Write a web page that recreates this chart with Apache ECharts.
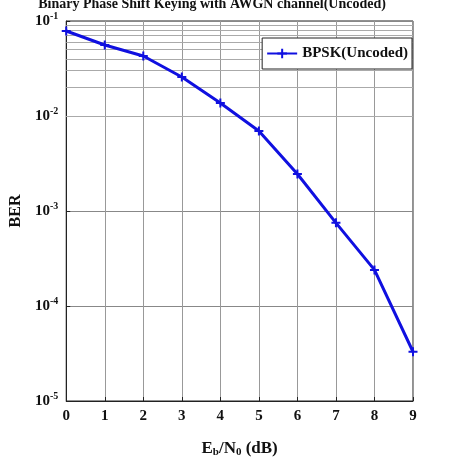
<!DOCTYPE html><html><head><meta charset="utf-8"><script src="https://cdn.jsdelivr.net/npm/echarts@6/dist/echarts.min.js"></script>
<style>html,body{margin:0;padding:0;background:#fff}#c{width:474px;height:474px}</style></head><body><div id="c"></div><script>
const snr=[0,1,2,3,4,5,6,7,8,9];
const ber=[0.0785,0.0559,0.0428,0.0257,0.0137,0.00695,0.00245,0.00075,0.00024,0.000033];
const decades=[1e-5,1e-4,1e-3,1e-2];
const minorMult=[2,3,4,5,6,7,8,9];
const F='Liberation Serif';
const minorLines=[];decades.forEach(d=>minorMult.forEach(m=>minorLines.push({yAxis:d*m})));
const ch=echarts.init(document.getElementById('c'));
ch.setOption({
 animation:false,
 title:{text:'Binary Phase Shift Keying with AWGN channel(Uncoded)',left:207,top:-8,textAlign:'center',textStyle:{fontFamily:F,fontSize:14,fontWeight:'bold',color:'#111'}},
 legend:{right:62,top:38,orient:'vertical',backgroundColor:'#fff',borderColor:'#222',borderWidth:1,padding:[8,4],itemWidth:30,itemHeight:12,textStyle:{fontFamily:F,fontSize:15,fontWeight:'bold',color:'#111'},data:['BPSK(Uncoded)']},
 grid:{left:62,right:61,top:21,bottom:73,show:true,borderColor:'#222',borderWidth:1},
 xAxis:{type:'value',min:0,max:9,interval:1,name:'{a|E}{s|b}{a|/N}{s|0}{a| (dB)}',nameLocation:'middle',nameGap:38,
  nameTextStyle:{rich:{a:{fontFamily:F,fontSize:17,fontWeight:'bold',color:'#111'},s:{fontFamily:F,fontSize:11,fontWeight:'bold',color:'#111',verticalAlign:'bottom',padding:[8,0,0,0]}}},
  axisLine:{lineStyle:{color:'#222'}},axisTick:{inside:true,length:4,lineStyle:{color:'#222'}},
  axisLabel:{fontFamily:F,fontSize:15,fontWeight:'bold',color:'#111',margin:8},
  splitLine:{lineStyle:{color:'#999'}}},
 yAxis:{type:'log',logBase:10,min:1e-5,max:1e-1,name:'BER',nameLocation:'middle',nameGap:36,
  nameTextStyle:{fontFamily:F,fontSize:16,fontWeight:'bold',color:'#111'},
  axisLine:{lineStyle:{color:'#222'}},axisTick:{inside:true,length:4,lineStyle:{color:'#222'}},
  axisLabel:{fontFamily:F,color:'#111',formatter:v=>{const e=Math.round(Math.log10(v));return '{b|10}{s|'+e+'}';},
   rich:{b:{fontFamily:F,fontSize:15,fontWeight:'bold',color:'#111'},s:{fontFamily:F,fontSize:10,fontWeight:'bold',color:'#111',verticalAlign:'top',padding:[0,0,10,0]}}},
  splitLine:{lineStyle:{color:'#888'}}},
 series:[{name:'BPSK(Uncoded)',type:'line',data:snr.map((x,i)=>[x,ber[i]]),symbol:'path://M0,-1L0,1M-1,0L1,0',symbolSize:9,z:5,
  lineStyle:{color:'#1010e0',width:3},itemStyle:{color:'#1010e0',borderColor:'#1010e0',borderWidth:2},
  markLine:{silent:true,symbol:'none',label:{show:false},lineStyle:{color:'#aaa',type:'solid',width:1},data:minorLines,z:1}}]
});
</script></body></html>
